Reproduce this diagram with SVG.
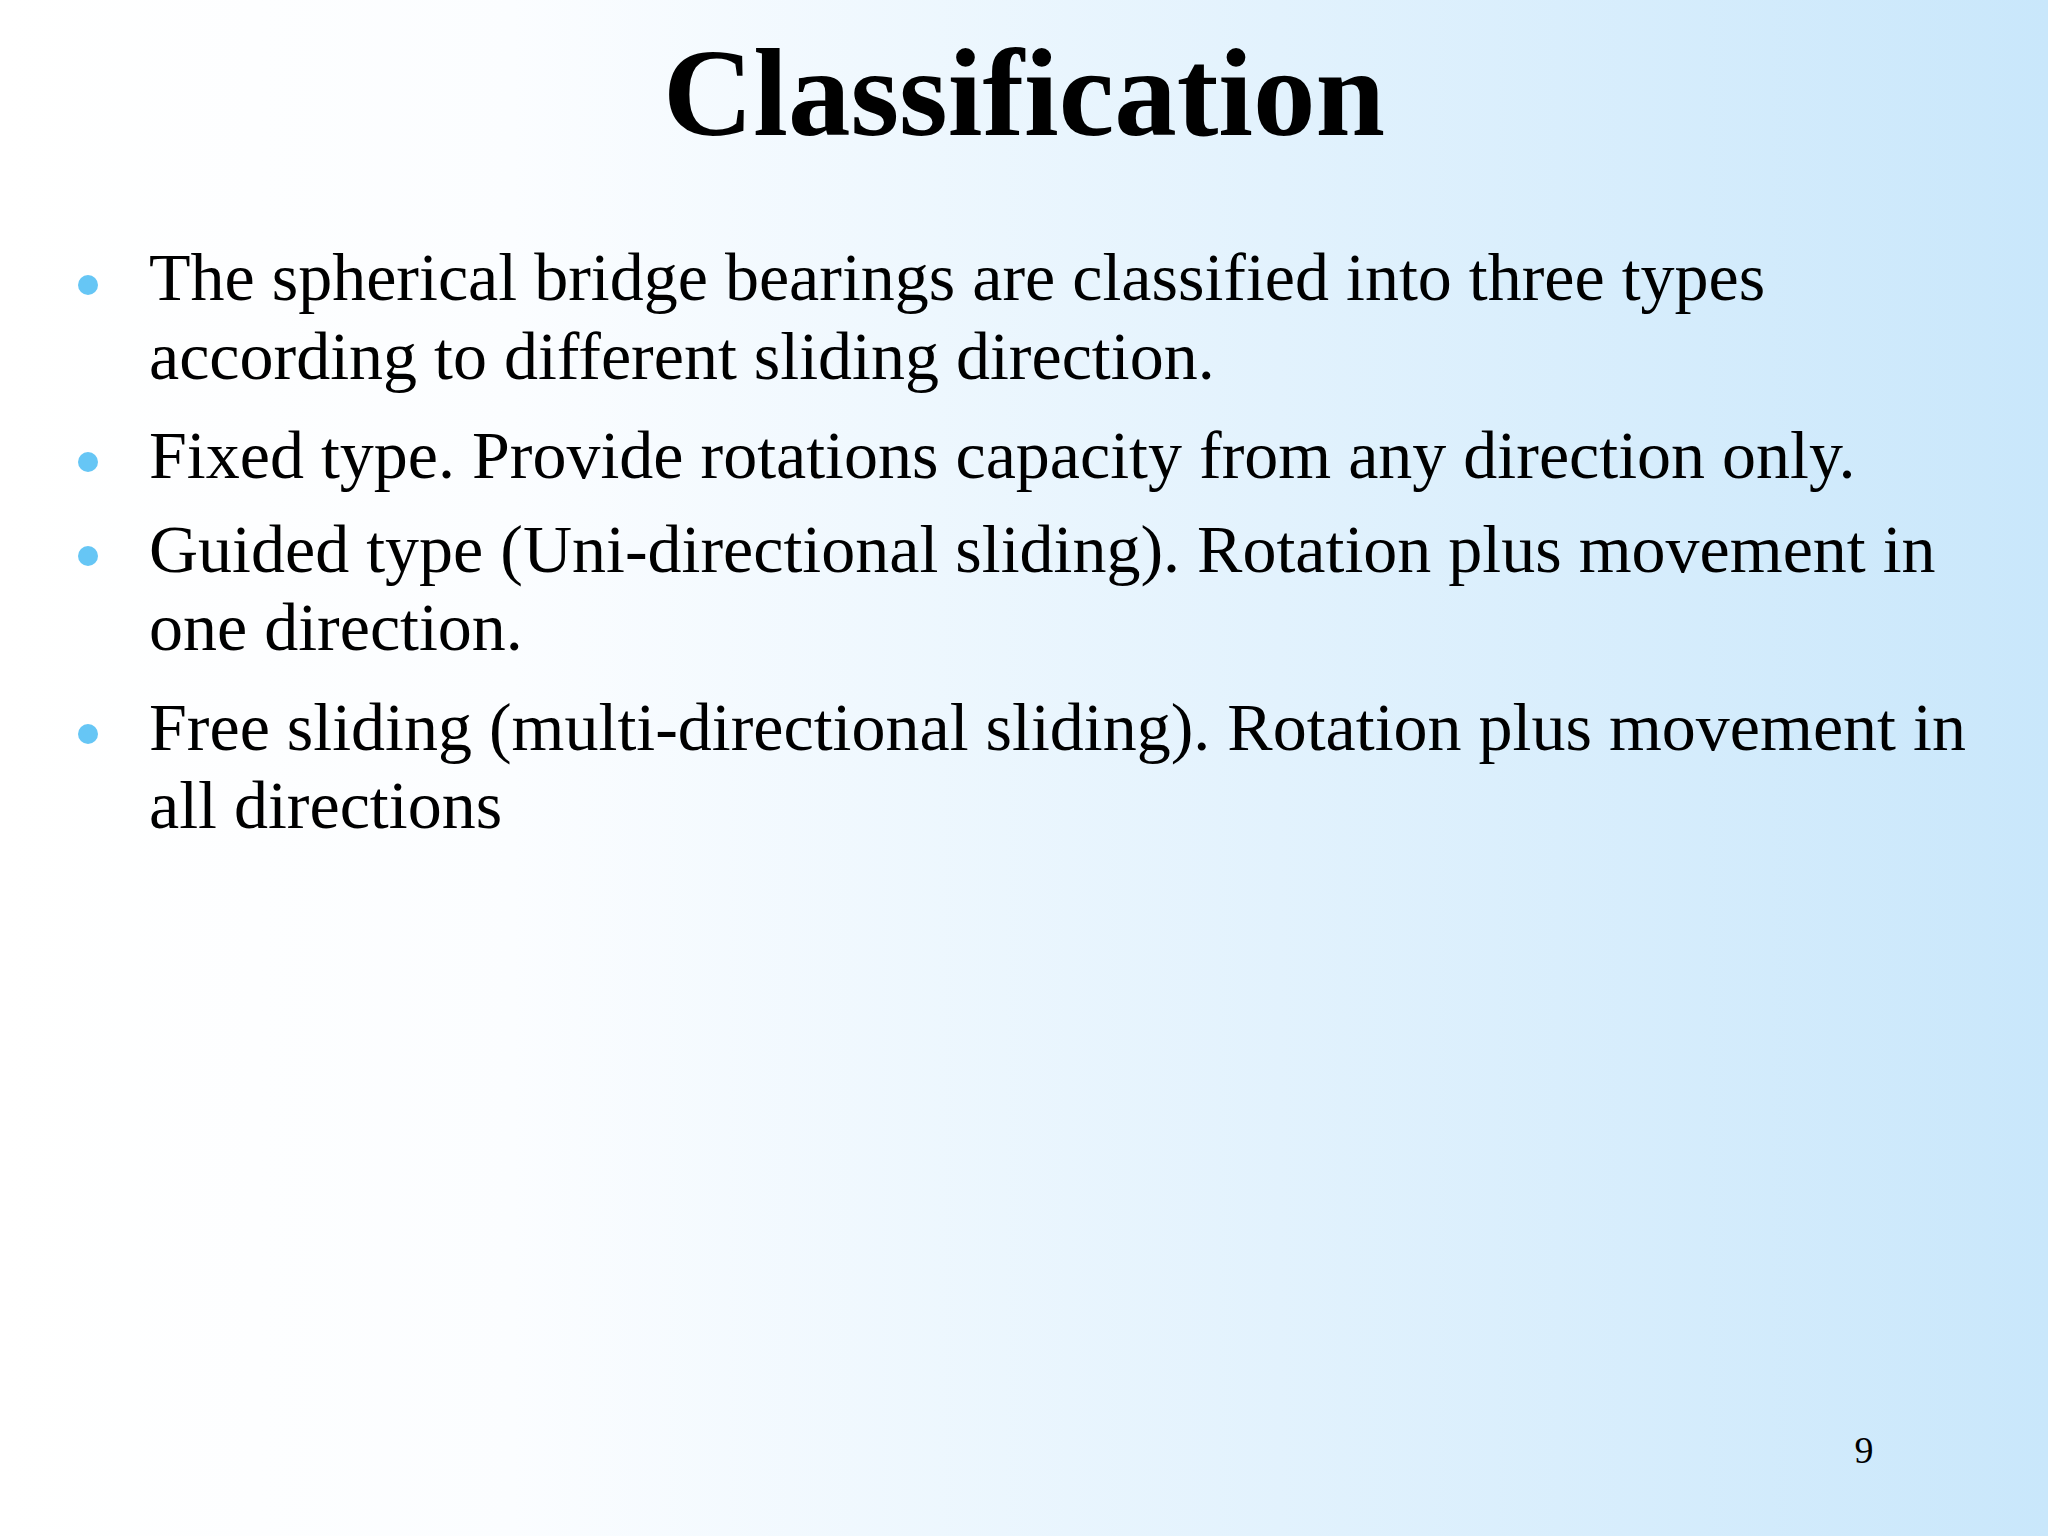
<svg xmlns="http://www.w3.org/2000/svg" width="2048" height="1536" viewBox="0 0 2048 1536">
<defs>
<linearGradient id="bg" x1="0" y1="0" x2="1" y2="0">
<stop offset="0" stop-color="#ffffff"/>
<stop offset="0.25" stop-color="#fbfdff"/>
<stop offset="1" stop-color="#c9e7fb"/>
</linearGradient>
<style>
.t{font-family:"Liberation Serif","Times New Roman",serif;font-size:68px;fill:#000}
.b{fill:#66c6f5}
</style>
</defs>
<rect width="2048" height="1536" fill="url(#bg)"/>
<text x="1024" y="135" text-anchor="middle" font-family="Liberation Serif, serif" font-weight="bold" font-size="125">Classification</text>
<g id="bullets">
<circle class="b" cx="88" cy="285" r="10"/>
<circle class="b" cx="88" cy="462" r="10"/>
<circle class="b" cx="88" cy="556" r="10"/>
<circle class="b" cx="88" cy="734" r="10"/>
</g>
<g id="text">
<text class="t" x="149" y="300">The spherical bridge bearings are classified into three types</text>
<text class="t" x="149" y="379">according to different sliding direction.</text>
<text class="t" x="149" y="478">Fixed type. Provide rotations capacity from any direction only.</text>
<text class="t" x="149" y="572">Guided type (Uni-directional sliding). Rotation plus movement in</text>
<text class="t" x="149" y="650">one direction.</text>
<text class="t" x="149" y="750">Free sliding (multi-directional sliding). Rotation plus movement in</text>
<text class="t" x="149" y="828">all directions</text>
</g>
<text x="1864" y="1463" text-anchor="middle" font-family="Liberation Serif, serif" font-size="38">9</text>
</svg>
